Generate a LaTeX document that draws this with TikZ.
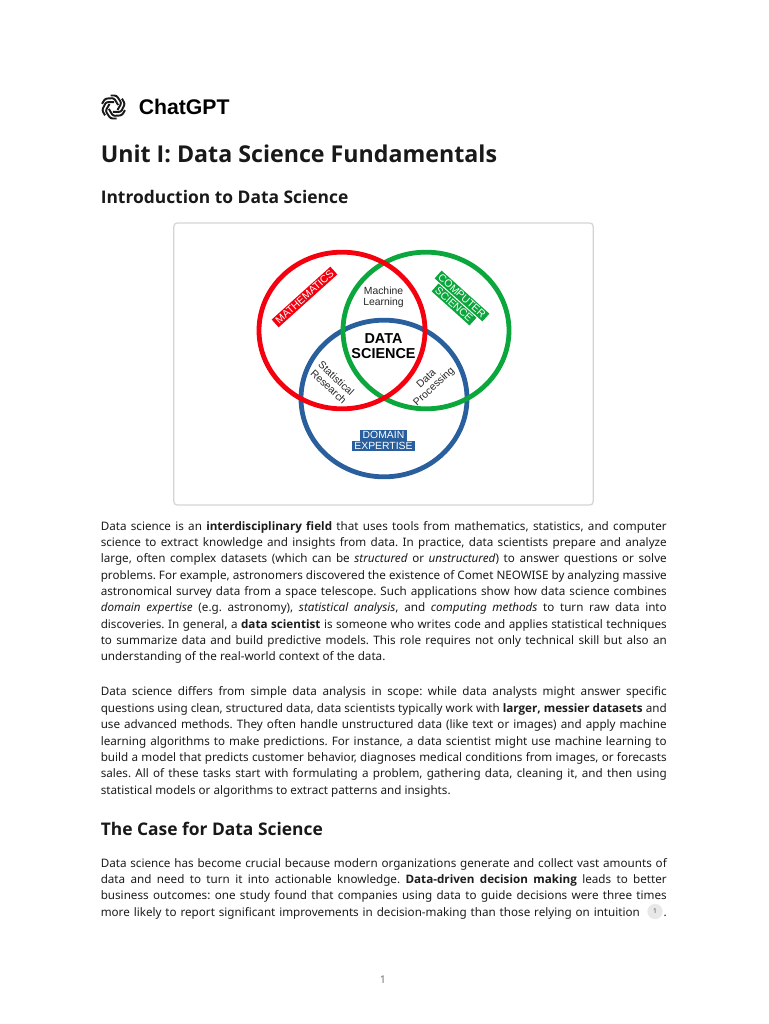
\documentclass[tikz,border=0pt]{standalone}
\usetikzlibrary{shapes.geometric}
\usepackage{fontspec}
\setmainfont{Noto Sans}[BoldFont={Open Sans Bold}]
\newfontfamily\lib{Liberation Sans}
\definecolor{bodyink}{HTML}{1C1C1C}
\definecolor{vred}{HTML}{F5000F}
\definecolor{vgreen}{HTML}{0BA73C}
\definecolor{vblue}{HTML}{2A5F9E}
\definecolor{framec}{HTML}{D4D4D4}
\newcommand{\bodyfont}{\fontsize{8.75pt}{12.26pt}\selectfont\frenchspacing}
\tikzset{
  x=0.75pt,y=-0.75pt,
  para/.style={anchor=north west,inner sep=0pt,text width=424.5pt,align=justify,font=\bodyfont,text=bodyink},
  h1/.style={anchor=base west,inner sep=0pt,font=\fontsize{17.4pt}{20pt}\selectfont\bfseries,text=black!90},
  h2/.style={anchor=base west,inner sep=0pt,font=\fontsize{13.05pt}{16pt}\selectfont\bfseries,text=black!90},
  ring/.style={draw=#1,line width=3.6pt,ellipse,minimum width=124.5pt,minimum height=117.5pt,inner sep=0pt},
  tag/.style={fill=#1,text=white,inner sep=0pt,inner xsep=1.8pt,minimum height=7.8pt,font=\lib\fontsize{7.8pt}{8pt}\selectfont},
  lab/.style={text=black!85,inner sep=0pt,font=\lib\fontsize{7.8pt}{8.4pt}\selectfont,align=center},
}
\begin{document}
\begin{tikzpicture}
\useasboundingbox (0,0) rectangle (768,1024);
\fill[white] (0,0) rectangle (768,1024);
% logo
\begin{scope}[shift={(113.5,107)},line width=1.45pt,black!90]
  \foreach \a in {0,60,...,300}{
    \draw[rotate=\a,rounded corners=1.6pt] (-3,-11.5) -- (3,-11.5) -- (8,-4) -- (4,3);
  }
\end{scope}
\node[anchor=base west,inner sep=0pt,font=\lib\fontsize{15.9pt}{18pt}\selectfont\bfseries] (brand) at (138.5,114) {ChatGPT};
\node[h1] (title) at (100.5,162) {Unit I: Data Science Fundamentals};
\node[h2] (intro) at (100.5,203) {Introduction to Data Science};
% figure
\node[draw=framec,line width=0.9pt,rounded corners=2.5pt,minimum width=314.5pt,minimum height=211.5pt,inner sep=0pt] (frame) at (383.5,364) {};
\node[ring=vblue] (cb) at (384,398.5) {};
\node[ring=vgreen] (cg) at (426,330.5) {};
\node[ring=vred] (cr) at (342,330.5) {};
\node[tag=vred,rotate=42] (math) at (304.5,297) {MATHEMATICS};
\node[tag=vgreen,rotate=-42] (cs1) at (462,296) {COMPUTER};
\node[tag=vgreen,rotate=-42] (cs2) at (454,304.5) {SCIENCE};
\node[lab] (ml) at (383.5,297) {Machine\\Learning};
\node[font=\lib\bfseries\fontsize{10.8pt}{11.4pt}\selectfont,align=center,inner sep=0pt] (ds) at (383.5,346) {DATA\\SCIENCE};
\node[lab,rotate=-43] (sr) at (332.5,382.5) {Statistical\\Research};
\node[lab,rotate=43] (dp) at (430.5,383) {Data\\Processing};
\node[tag=vblue] (de1) at (383.5,435.3) {DOMAIN};
\node[tag=vblue] (de2) at (383.5,446) {EXPERTISE};
% text
\node[para] (p1) at (100.5,521) {Data science is an \textbf{interdisciplinary field} that uses tools from mathematics, statistics, and computer\linebreak
science to extract knowledge and insights from data. In practice, data scientists prepare and analyze\linebreak
large, often complex datasets (which can be \textit{structured} or \textit{unstructured}) to answer questions or solve\linebreak
problems. For example, astronomers discovered the existence of Comet NEOWISE by analyzing massive\linebreak
astronomical survey data from a space telescope. Such applications show how data science combines\linebreak
\textit{domain expertise} (e.g. astronomy), \textit{statistical analysis}, and \textit{computing methods} to turn raw data into\linebreak
discoveries. In general, a \textbf{data scientist} is someone who writes code and applies statistical techniques\linebreak
to summarize data and build predictive models. This role requires not only technical skill but also an\linebreak
understanding of the real-world context of the data.};
\node[para] (p2) at (100.5,686.8) {Data science differs from simple data analysis in scope: while data analysts might answer specific\linebreak
questions using clean, structured data, data scientists typically work with \textbf{larger, messier datasets} and\linebreak
use advanced methods. They often handle unstructured data (like text or images) and apply machine\linebreak
learning algorithms to make predictions. For instance, a data scientist might use machine learning to\linebreak
build a model that predicts customer behavior, diagnoses medical conditions from images, or forecasts\linebreak
sales. All of these tasks start with formulating a problem, gathering data, cleaning it, and then using\linebreak
statistical models or algorithms to extract patterns and insights.};
\node[h2] (case) at (100.5,835) {The Case for Data Science};
\node[para] (p3) at (100.5,857.8) {Data science has become crucial because modern organizations generate and collect vast amounts of\linebreak
data and need to turn it into actionable knowledge. \textbf{Data-driven decision making} leads to better\linebreak
business outcomes: one study found that companies using data to guide decisions were three times\linebreak
\makebox[424.5pt][s]{more likely to report significant improvements in decision-making than those relying on intuition \hspace{12pt} .}};
\node[circle,fill=black!9,minimum size=11.5pt,inner sep=0pt,font=\fontsize{5pt}{6pt}\selectfont,text=black!70] (ref) at (655,911.5) {1};
\node[inner sep=0pt,font=\fontsize{8pt}{10pt}\selectfont,text=black!55] (page) at (383,980) {1};
\end{tikzpicture}
\end{document}
